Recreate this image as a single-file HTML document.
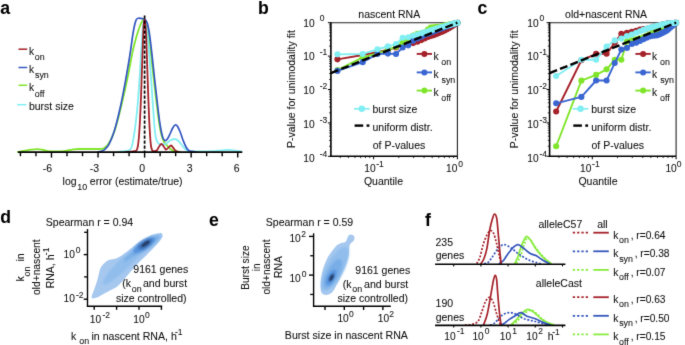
<!DOCTYPE html>
<html><head><meta charset="utf-8"><style>
html,body{margin:0;padding:0;background:#fff;}
svg{display:block;}
</style></head><body>
<svg width="685" height="345" viewBox="0 0 685 345" font-family='"Liberation Sans", Arial, sans-serif' font-size="10.5" fill="#111">
<style>text{stroke:#111;stroke-width:0.08px;}</style>
<defs><filter id="bl" x="-20%" y="-20%" width="140%" height="140%"><feGaussianBlur stdDeviation="0.9"/></filter>
<filter id="bl2" x="-20%" y="-20%" width="140%" height="140%"><feGaussianBlur stdDeviation="0.45"/></filter>
<filter id="soft" x="0" y="0" width="685" height="345" filterUnits="userSpaceOnUse" color-interpolation-filters="sRGB"><feConvolveMatrix order="3" kernelMatrix="1 8 1 8 64 8 1 8 1" divisor="100" edgeMode="duplicate"/></filter></defs>
<g filter="url(#soft)">
<rect width="685" height="345" fill="#fff"/>
<text x="0.20" y="13.80" font-size="17.6" font-weight="bold" fill="#000">a</text>
<text x="257.90" y="13.60" font-size="17.6" font-weight="bold" fill="#000">b</text>
<text x="477.60" y="13.80" font-size="17.6" font-weight="bold" fill="#000">c</text>
<text x="0.20" y="223.40" font-size="17.6" font-weight="bold" fill="#000">d</text>
<text x="209.00" y="226.30" font-size="17.6" font-weight="bold" fill="#000">e</text>
<text x="425.00" y="226.20" font-size="17.6" font-weight="bold" fill="#000">f</text>
<line x1="18.50" y1="49.20" x2="27.20" y2="49.20" stroke="#A5222A" stroke-width="1.5"/>
<text x="28.91" y="54.50" font-size="10.2">k</text>
<text x="34.83" y="59.90" font-size="8.9">on</text>
<line x1="18.50" y1="67.50" x2="27.20" y2="67.50" stroke="#3457C2" stroke-width="1.5"/>
<text x="28.91" y="72.80" font-size="10.2">k</text>
<text x="34.95" y="78.20" font-size="8.9">syn</text>
<line x1="18.50" y1="85.30" x2="27.20" y2="85.30" stroke="#80E52A" stroke-width="1.5"/>
<text x="28.91" y="91.10" font-size="10.2">k</text>
<text x="34.83" y="96.50" font-size="8.9">off</text>
<line x1="17.20" y1="104.70" x2="26.40" y2="104.70" stroke="#80EEF2" stroke-width="1.5"/>
<text x="28.92" y="109.50">burst size</text>
<path d="M17.90,152.00 C18.92,151.83 21.82,151.38 24.00,151.00 C26.18,150.62 28.75,150.02 31.00,149.70 C33.25,149.38 35.42,149.05 37.50,149.10 C39.58,149.15 41.42,149.63 43.50,150.00 C45.58,150.37 47.58,151.07 50.00,151.30 C52.42,151.53 55.67,151.43 58.00,151.40 C60.33,151.37 62.17,151.30 64.00,151.10 C65.83,150.90 67.42,150.50 69.00,150.20 C70.58,149.90 72.00,149.50 73.50,149.30 C75.00,149.10 75.25,149.05 78.00,149.00 C80.75,148.95 86.08,149.03 90.00,149.00 C93.92,148.97 99.03,149.03 101.50,148.80 C103.97,148.57 103.75,148.27 104.80,147.60 C105.85,146.93 106.77,146.15 107.80,144.80 C108.83,143.45 109.88,141.80 111.00,139.50 C112.12,137.20 113.33,134.42 114.50,131.00 C115.67,127.58 116.83,123.33 118.00,119.00 C119.17,114.67 120.42,109.50 121.50,105.00 C122.58,100.50 123.50,96.50 124.50,92.00 C125.50,87.50 126.52,82.83 127.50,78.00 C128.48,73.17 129.48,67.67 130.40,63.00 C131.32,58.33 132.15,53.83 133.00,50.00 C133.85,46.17 134.63,43.17 135.50,40.00 C136.37,36.83 137.28,33.75 138.20,31.00 C139.12,28.25 140.15,25.37 141.00,23.50 C141.85,21.63 142.58,20.30 143.30,19.80 C144.02,19.30 144.63,19.30 145.30,20.50 C145.97,21.70 146.63,23.75 147.30,27.00 C147.97,30.25 148.65,35.17 149.30,40.00 C149.95,44.83 150.55,50.33 151.20,56.00 C151.85,61.67 152.48,67.67 153.20,74.00 C153.92,80.33 154.73,87.50 155.50,94.00 C156.27,100.50 157.08,107.50 157.80,113.00 C158.52,118.50 159.13,123.17 159.80,127.00 C160.47,130.83 161.13,133.58 161.80,136.00 C162.47,138.42 163.02,140.03 163.80,141.50 C164.58,142.97 165.55,143.68 166.50,144.80 C167.45,145.92 168.50,147.23 169.50,148.20 C170.50,149.17 171.42,150.07 172.50,150.60 C173.58,151.13 174.75,151.17 176.00,151.40 C177.25,151.63 179.33,151.90 180.00,152.00" stroke="#80E52A" stroke-width="1.8" fill="none" stroke-linejoin="round" stroke-linecap="round"/>
<path d="M118.00,152.00 C119.17,151.87 123.17,151.50 125.00,151.20 C126.83,150.90 127.93,150.82 129.00,150.20 C130.07,149.58 130.70,149.20 131.40,147.50 C132.10,145.80 132.63,142.92 133.20,140.00 C133.77,137.08 134.28,133.67 134.80,130.00 C135.32,126.33 135.83,122.17 136.30,118.00 C136.77,113.83 137.18,109.67 137.60,105.00 C138.02,100.33 138.43,95.00 138.80,90.00 C139.17,85.00 139.47,80.33 139.80,75.00 C140.13,69.67 140.47,63.50 140.80,58.00 C141.13,52.50 141.47,47.00 141.80,42.00 C142.13,37.00 142.47,31.58 142.80,28.00 C143.13,24.42 143.40,21.80 143.80,20.50 C144.20,19.20 144.75,19.28 145.20,20.20 C145.65,21.12 146.10,23.37 146.50,26.00 C146.90,28.63 147.23,32.50 147.60,36.00 C147.97,39.50 148.35,43.00 148.70,47.00 C149.05,51.00 149.35,55.33 149.70,60.00 C150.05,64.67 150.38,69.17 150.80,75.00 C151.22,80.83 151.77,88.83 152.20,95.00 C152.63,101.17 153.00,106.50 153.40,112.00 C153.80,117.50 154.17,123.58 154.60,128.00 C155.03,132.42 155.43,136.00 156.00,138.50 C156.57,141.00 157.25,141.98 158.00,143.00 C158.75,144.02 159.67,144.33 160.50,144.60 C161.33,144.87 162.08,144.77 163.00,144.60 C163.92,144.43 164.92,144.20 166.00,143.60 C167.08,143.00 168.42,141.72 169.50,141.00 C170.58,140.28 171.58,139.62 172.50,139.30 C173.42,138.98 174.08,138.90 175.00,139.10 C175.92,139.30 177.00,139.68 178.00,140.50 C179.00,141.32 179.92,142.70 181.00,144.00 C182.08,145.30 183.33,147.17 184.50,148.30 C185.67,149.43 186.75,150.28 188.00,150.80 C189.25,151.32 189.17,151.30 192.00,151.40 C194.83,151.50 201.17,151.43 205.00,151.40 C208.83,151.37 212.17,151.38 215.00,151.20 C217.83,151.02 219.67,150.52 222.00,150.30 C224.33,150.08 226.83,149.85 229.00,149.90 C231.17,149.95 233.00,150.37 235.00,150.60 C237.00,150.83 240.00,151.18 241.00,151.30" stroke="#80EEF2" stroke-width="1.8" fill="none" stroke-linejoin="round" stroke-linecap="round"/>
<path d="M98.00,152.00 C98.55,151.87 100.20,151.60 101.30,151.20 C102.40,150.80 103.45,150.55 104.60,149.60 C105.75,148.65 107.10,147.22 108.20,145.50 C109.30,143.78 110.13,141.88 111.20,139.30 C112.27,136.72 113.50,133.55 114.60,130.00 C115.70,126.45 116.77,122.17 117.80,118.00 C118.83,113.83 119.83,109.50 120.80,105.00 C121.77,100.50 122.70,95.67 123.60,91.00 C124.50,86.33 125.37,81.67 126.20,77.00 C127.03,72.33 127.83,67.67 128.60,63.00 C129.37,58.33 130.13,53.50 130.80,49.00 C131.47,44.50 132.00,39.83 132.60,36.00 C133.20,32.17 133.78,28.72 134.40,26.00 C135.02,23.28 135.62,21.00 136.30,19.70 C136.98,18.40 137.72,18.42 138.50,18.20 C139.28,17.98 140.17,18.27 141.00,18.40 C141.83,18.53 142.73,18.73 143.50,19.00 C144.27,19.27 144.95,19.25 145.60,20.00 C146.25,20.75 146.83,21.67 147.40,23.50 C147.97,25.33 148.50,28.08 149.00,31.00 C149.50,33.92 149.93,37.33 150.40,41.00 C150.87,44.67 151.33,48.83 151.80,53.00 C152.27,57.17 152.73,61.67 153.20,66.00 C153.67,70.33 154.10,74.50 154.60,79.00 C155.10,83.50 155.67,88.33 156.20,93.00 C156.73,97.67 157.27,102.50 157.80,107.00 C158.33,111.50 158.83,116.00 159.40,120.00 C159.97,124.00 160.60,128.00 161.20,131.00 C161.80,134.00 162.37,136.40 163.00,138.00 C163.63,139.60 164.27,140.43 165.00,140.60 C165.73,140.77 166.57,140.10 167.40,139.00 C168.23,137.90 169.13,135.80 170.00,134.00 C170.87,132.20 171.73,129.70 172.60,128.20 C173.47,126.70 174.37,125.30 175.20,125.00 C176.03,124.70 176.77,125.23 177.60,126.40 C178.43,127.57 179.30,129.73 180.20,132.00 C181.10,134.27 182.03,137.50 183.00,140.00 C183.97,142.50 185.00,145.23 186.00,147.00 C187.00,148.77 188.00,149.87 189.00,150.60 C190.00,151.33 190.83,151.17 192.00,151.40 C193.17,151.63 195.33,151.90 196.00,152.00" stroke="#3457C2" stroke-width="1.7" fill="none" stroke-linejoin="round" stroke-linecap="round"/>
<path d="M126.00,152.00 C127.17,151.88 131.27,151.53 133.00,151.30 C134.73,151.07 135.58,151.48 136.40,150.60 C137.22,149.72 137.47,148.43 137.90,146.00 C138.33,143.57 138.65,140.33 139.00,136.00 C139.35,131.67 139.68,126.00 140.00,120.00 C140.32,114.00 140.63,106.67 140.90,100.00 C141.17,93.33 141.37,86.67 141.60,80.00 C141.83,73.33 142.07,66.67 142.30,60.00 C142.53,53.33 142.77,45.83 143.00,40.00 C143.23,34.17 143.43,28.42 143.70,25.00 C143.97,21.58 144.30,19.50 144.60,19.50 C144.90,19.50 145.22,21.58 145.50,25.00 C145.78,28.42 146.05,34.17 146.30,40.00 C146.55,45.83 146.77,53.33 147.00,60.00 C147.23,66.67 147.47,73.33 147.70,80.00 C147.93,86.67 148.15,93.33 148.40,100.00 C148.65,106.67 148.92,114.00 149.20,120.00 C149.48,126.00 149.80,131.67 150.10,136.00 C150.40,140.33 150.63,143.57 151.00,146.00 C151.37,148.43 151.72,149.73 152.30,150.60 C152.88,151.47 153.75,151.22 154.50,151.20 C155.25,151.18 156.05,151.23 156.80,150.50 C157.55,149.77 158.25,147.90 159.00,146.80 C159.75,145.70 160.53,144.00 161.30,143.90 C162.07,143.80 162.83,145.25 163.60,146.20 C164.37,147.15 165.10,149.37 165.90,149.60 C166.70,149.83 167.53,148.28 168.40,147.60 C169.27,146.92 170.25,145.40 171.10,145.50 C171.95,145.60 172.72,147.28 173.50,148.20 C174.28,149.12 174.88,150.37 175.80,151.00 C176.72,151.63 178.47,151.83 179.00,152.00" stroke="#A5222A" stroke-width="1.8" fill="none" stroke-linejoin="round" stroke-linecap="round"/>
<line x1="144.60" y1="15.60" x2="144.60" y2="152.00" stroke="#000" stroke-width="1.7" stroke-dasharray="3.2 1.8"/>
<line x1="17.90" y1="152.20" x2="242.30" y2="152.20" stroke="#000" stroke-width="1.7"/>
<line x1="20.44" y1="152.20" x2="20.44" y2="156.20" stroke="#000" stroke-width="1.4"/>
<line x1="35.96" y1="152.20" x2="35.96" y2="156.20" stroke="#000" stroke-width="1.4"/>
<line x1="51.48" y1="152.20" x2="51.48" y2="157.60" stroke="#000" stroke-width="1.4"/>
<line x1="67.00" y1="152.20" x2="67.00" y2="156.20" stroke="#000" stroke-width="1.4"/>
<line x1="82.52" y1="152.20" x2="82.52" y2="156.20" stroke="#000" stroke-width="1.4"/>
<line x1="98.04" y1="152.20" x2="98.04" y2="157.60" stroke="#000" stroke-width="1.4"/>
<line x1="113.56" y1="152.20" x2="113.56" y2="156.20" stroke="#000" stroke-width="1.4"/>
<line x1="129.08" y1="152.20" x2="129.08" y2="156.20" stroke="#000" stroke-width="1.4"/>
<line x1="144.60" y1="152.20" x2="144.60" y2="157.60" stroke="#000" stroke-width="1.4"/>
<line x1="160.12" y1="152.20" x2="160.12" y2="156.20" stroke="#000" stroke-width="1.4"/>
<line x1="175.64" y1="152.20" x2="175.64" y2="156.20" stroke="#000" stroke-width="1.4"/>
<line x1="191.16" y1="152.20" x2="191.16" y2="157.60" stroke="#000" stroke-width="1.4"/>
<line x1="206.68" y1="152.20" x2="206.68" y2="156.20" stroke="#000" stroke-width="1.4"/>
<line x1="222.20" y1="152.20" x2="222.20" y2="156.20" stroke="#000" stroke-width="1.4"/>
<line x1="237.72" y1="152.20" x2="237.72" y2="157.60" stroke="#000" stroke-width="1.4"/>
<text x="52.20" y="171.80" text-anchor="end">-6</text>
<text x="99.10" y="171.80" text-anchor="end">-3</text>
<text x="145.20" y="171.80" text-anchor="end">0</text>
<text x="192.70" y="171.80" text-anchor="end">3</text>
<text x="239.50" y="171.80" text-anchor="end">6</text>
<text x="62.60" y="185.40">log</text>
<text x="77.32" y="190.00" font-size="8.9">10</text>
<text x="89.85" y="185.40">error (estimate/true)</text>
<text x="358.30" y="18.40">nascent RNA</text>
<line x1="330.90" y1="22.70" x2="457.40" y2="22.70" stroke="#222" stroke-width="1.1"/>
<line x1="457.40" y1="22.70" x2="457.40" y2="156.30" stroke="#222" stroke-width="1.1"/>
<path d="M337.45,59.34 L362.68,54.98 L377.43,52.29 L387.90,49.64 L396.03,47.57 L402.66,45.65 L408.27,44.02 L413.13,43.10 L417.42,41.63 L421.25,40.08 L424.72,38.44 L427.89,37.00 L430.80,36.07 L433.50,35.20 L436.01,34.21 L438.36,33.21 L440.56,32.27 L442.64,31.39 L444.61,30.47 L446.48,29.46 L448.25,28.50 L449.95,27.59 L451.56,26.55 L453.11,25.53 L454.60,24.55 L456.03,23.61 L457.40,22.70" stroke="#A5222A" stroke-width="1.9" fill="none" stroke-linejoin="round" stroke-linecap="round"/>
<circle cx="337.45" cy="59.34" r="3.05" fill="#A5222A"/>
<circle cx="362.68" cy="54.98" r="3.05" fill="#A5222A"/>
<circle cx="377.43" cy="52.29" r="3.05" fill="#A5222A"/>
<circle cx="387.90" cy="49.64" r="3.05" fill="#A5222A"/>
<circle cx="396.03" cy="47.57" r="3.05" fill="#A5222A"/>
<circle cx="402.66" cy="45.65" r="3.05" fill="#A5222A"/>
<circle cx="408.27" cy="44.02" r="3.05" fill="#A5222A"/>
<circle cx="413.13" cy="43.10" r="3.05" fill="#A5222A"/>
<circle cx="417.42" cy="41.63" r="3.05" fill="#A5222A"/>
<circle cx="421.25" cy="40.08" r="3.05" fill="#A5222A"/>
<circle cx="424.72" cy="38.44" r="3.05" fill="#A5222A"/>
<circle cx="427.89" cy="37.00" r="3.05" fill="#A5222A"/>
<circle cx="430.80" cy="36.07" r="3.05" fill="#A5222A"/>
<circle cx="433.50" cy="35.20" r="3.05" fill="#A5222A"/>
<circle cx="436.01" cy="34.21" r="3.05" fill="#A5222A"/>
<circle cx="438.36" cy="33.21" r="3.05" fill="#A5222A"/>
<circle cx="440.56" cy="32.27" r="3.05" fill="#A5222A"/>
<circle cx="442.64" cy="31.39" r="3.05" fill="#A5222A"/>
<circle cx="444.61" cy="30.47" r="3.05" fill="#A5222A"/>
<circle cx="446.48" cy="29.46" r="3.05" fill="#A5222A"/>
<circle cx="448.25" cy="28.50" r="3.05" fill="#A5222A"/>
<circle cx="449.95" cy="27.59" r="3.05" fill="#A5222A"/>
<circle cx="451.56" cy="26.55" r="3.05" fill="#A5222A"/>
<circle cx="453.11" cy="25.53" r="3.05" fill="#A5222A"/>
<circle cx="454.60" cy="24.55" r="3.05" fill="#A5222A"/>
<circle cx="456.03" cy="23.61" r="3.05" fill="#A5222A"/>
<circle cx="457.40" cy="22.70" r="3.05" fill="#A5222A"/>
<path d="M337.45,70.14 L362.68,57.39 L377.43,53.46 L387.90,49.70 L396.03,46.79 L402.66,42.41 L408.27,38.71 L413.13,35.51 L417.42,33.78 L421.25,33.19 L424.72,32.18 L427.89,29.44 L430.80,27.54 L433.50,27.32 L436.01,27.11 L438.36,26.91 L440.56,26.48 L442.64,26.02 L444.61,25.59 L446.48,25.17 L448.25,24.78 L449.95,24.40 L451.56,24.03 L453.11,23.68 L454.60,23.34 L456.03,23.01 L457.40,22.70" stroke="#80E52A" stroke-width="1.9" fill="none" stroke-linejoin="round" stroke-linecap="round"/>
<circle cx="337.45" cy="70.14" r="3.05" fill="#80E52A"/>
<circle cx="362.68" cy="57.39" r="3.05" fill="#80E52A"/>
<circle cx="377.43" cy="53.46" r="3.05" fill="#80E52A"/>
<circle cx="387.90" cy="49.70" r="3.05" fill="#80E52A"/>
<circle cx="396.03" cy="46.79" r="3.05" fill="#80E52A"/>
<circle cx="402.66" cy="42.41" r="3.05" fill="#80E52A"/>
<circle cx="408.27" cy="38.71" r="3.05" fill="#80E52A"/>
<circle cx="413.13" cy="35.51" r="3.05" fill="#80E52A"/>
<circle cx="417.42" cy="33.78" r="3.05" fill="#80E52A"/>
<circle cx="421.25" cy="33.19" r="3.05" fill="#80E52A"/>
<circle cx="424.72" cy="32.18" r="3.05" fill="#80E52A"/>
<circle cx="427.89" cy="29.44" r="3.05" fill="#80E52A"/>
<circle cx="430.80" cy="27.54" r="3.05" fill="#80E52A"/>
<circle cx="433.50" cy="27.32" r="3.05" fill="#80E52A"/>
<circle cx="436.01" cy="27.11" r="3.05" fill="#80E52A"/>
<circle cx="438.36" cy="26.91" r="3.05" fill="#80E52A"/>
<circle cx="440.56" cy="26.48" r="3.05" fill="#80E52A"/>
<circle cx="442.64" cy="26.02" r="3.05" fill="#80E52A"/>
<circle cx="444.61" cy="25.59" r="3.05" fill="#80E52A"/>
<circle cx="446.48" cy="25.17" r="3.05" fill="#80E52A"/>
<circle cx="448.25" cy="24.78" r="3.05" fill="#80E52A"/>
<circle cx="449.95" cy="24.40" r="3.05" fill="#80E52A"/>
<circle cx="451.56" cy="24.03" r="3.05" fill="#80E52A"/>
<circle cx="453.11" cy="23.68" r="3.05" fill="#80E52A"/>
<circle cx="454.60" cy="23.34" r="3.05" fill="#80E52A"/>
<circle cx="456.03" cy="23.01" r="3.05" fill="#80E52A"/>
<circle cx="457.40" cy="22.70" r="3.05" fill="#80E52A"/>
<path d="M337.45,70.92 L362.68,62.13 L377.43,53.95 L387.90,53.58 L396.03,53.95 L402.66,47.57 L408.27,45.34 L413.13,40.66 L417.42,38.55 L421.25,36.66 L424.72,35.02 L427.89,33.76 L430.80,32.59 L433.50,31.52 L436.01,30.52 L438.36,29.58 L440.56,28.73 L442.64,27.94 L444.61,27.19 L446.48,26.47 L448.25,25.79 L449.95,25.18 L451.56,24.64 L453.11,24.13 L454.60,23.63 L456.03,23.16 L457.40,22.70" stroke="#3A66D2" stroke-width="1.9" fill="none" stroke-linejoin="round" stroke-linecap="round"/>
<circle cx="337.45" cy="70.92" r="3.05" fill="#3A66D2"/>
<circle cx="362.68" cy="62.13" r="3.05" fill="#3A66D2"/>
<circle cx="377.43" cy="53.95" r="3.05" fill="#3A66D2"/>
<circle cx="387.90" cy="53.58" r="3.05" fill="#3A66D2"/>
<circle cx="396.03" cy="53.95" r="3.05" fill="#3A66D2"/>
<circle cx="402.66" cy="47.57" r="3.05" fill="#3A66D2"/>
<circle cx="408.27" cy="45.34" r="3.05" fill="#3A66D2"/>
<circle cx="413.13" cy="40.66" r="3.05" fill="#3A66D2"/>
<circle cx="417.42" cy="38.55" r="3.05" fill="#3A66D2"/>
<circle cx="421.25" cy="36.66" r="3.05" fill="#3A66D2"/>
<circle cx="424.72" cy="35.02" r="3.05" fill="#3A66D2"/>
<circle cx="427.89" cy="33.76" r="3.05" fill="#3A66D2"/>
<circle cx="430.80" cy="32.59" r="3.05" fill="#3A66D2"/>
<circle cx="433.50" cy="31.52" r="3.05" fill="#3A66D2"/>
<circle cx="436.01" cy="30.52" r="3.05" fill="#3A66D2"/>
<circle cx="438.36" cy="29.58" r="3.05" fill="#3A66D2"/>
<circle cx="440.56" cy="28.73" r="3.05" fill="#3A66D2"/>
<circle cx="442.64" cy="27.94" r="3.05" fill="#3A66D2"/>
<circle cx="444.61" cy="27.19" r="3.05" fill="#3A66D2"/>
<circle cx="446.48" cy="26.47" r="3.05" fill="#3A66D2"/>
<circle cx="448.25" cy="25.79" r="3.05" fill="#3A66D2"/>
<circle cx="449.95" cy="25.18" r="3.05" fill="#3A66D2"/>
<circle cx="451.56" cy="24.64" r="3.05" fill="#3A66D2"/>
<circle cx="453.11" cy="24.13" r="3.05" fill="#3A66D2"/>
<circle cx="454.60" cy="23.63" r="3.05" fill="#3A66D2"/>
<circle cx="456.03" cy="23.16" r="3.05" fill="#3A66D2"/>
<circle cx="457.40" cy="22.70" r="3.05" fill="#3A66D2"/>
<path d="M337.45,54.33 L362.68,53.95 L377.43,49.28 L387.90,46.41 L396.03,44.08 L402.66,37.72 L408.27,37.20 L413.13,35.76 L417.42,34.48 L421.25,33.33 L424.72,32.24 L427.89,31.25 L430.80,30.34 L433.50,29.50 L436.01,28.71 L438.36,27.98 L440.56,27.31 L442.64,26.74 L444.61,26.20 L446.48,25.69 L448.25,25.21 L449.95,24.74 L451.56,24.30 L453.11,23.87 L454.60,23.47 L456.03,23.08 L457.40,22.70" stroke="#80EEF2" stroke-width="1.9" fill="none" stroke-linejoin="round" stroke-linecap="round"/>
<circle cx="337.45" cy="54.33" r="3.05" fill="#80EEF2"/>
<circle cx="362.68" cy="53.95" r="3.05" fill="#80EEF2"/>
<circle cx="377.43" cy="49.28" r="3.05" fill="#80EEF2"/>
<circle cx="387.90" cy="46.41" r="3.05" fill="#80EEF2"/>
<circle cx="396.03" cy="44.08" r="3.05" fill="#80EEF2"/>
<circle cx="402.66" cy="37.72" r="3.05" fill="#80EEF2"/>
<circle cx="408.27" cy="37.20" r="3.05" fill="#80EEF2"/>
<circle cx="413.13" cy="35.76" r="3.05" fill="#80EEF2"/>
<circle cx="417.42" cy="34.48" r="3.05" fill="#80EEF2"/>
<circle cx="421.25" cy="33.33" r="3.05" fill="#80EEF2"/>
<circle cx="424.72" cy="32.24" r="3.05" fill="#80EEF2"/>
<circle cx="427.89" cy="31.25" r="3.05" fill="#80EEF2"/>
<circle cx="430.80" cy="30.34" r="3.05" fill="#80EEF2"/>
<circle cx="433.50" cy="29.50" r="3.05" fill="#80EEF2"/>
<circle cx="436.01" cy="28.71" r="3.05" fill="#80EEF2"/>
<circle cx="438.36" cy="27.98" r="3.05" fill="#80EEF2"/>
<circle cx="440.56" cy="27.31" r="3.05" fill="#80EEF2"/>
<circle cx="442.64" cy="26.74" r="3.05" fill="#80EEF2"/>
<circle cx="444.61" cy="26.20" r="3.05" fill="#80EEF2"/>
<circle cx="446.48" cy="25.69" r="3.05" fill="#80EEF2"/>
<circle cx="448.25" cy="25.21" r="3.05" fill="#80EEF2"/>
<circle cx="449.95" cy="24.74" r="3.05" fill="#80EEF2"/>
<circle cx="451.56" cy="24.30" r="3.05" fill="#80EEF2"/>
<circle cx="453.11" cy="23.87" r="3.05" fill="#80EEF2"/>
<circle cx="454.60" cy="23.47" r="3.05" fill="#80EEF2"/>
<circle cx="456.03" cy="23.08" r="3.05" fill="#80EEF2"/>
<circle cx="457.40" cy="22.70" r="3.05" fill="#80EEF2"/>
<line x1="330.90" y1="73.12" x2="457.40" y2="22.70" stroke="#000" stroke-width="2.4" stroke-dasharray="8 3.2"/>
<line x1="330.90" y1="22.20" x2="330.90" y2="156.30" stroke="#000" stroke-width="1.6"/>
<line x1="330.10" y1="156.30" x2="457.40" y2="156.30" stroke="#000" stroke-width="1.6"/>
<line x1="329.10" y1="46.05" x2="330.90" y2="46.05" stroke="#000" stroke-width="0.8"/>
<line x1="329.10" y1="40.16" x2="330.90" y2="40.16" stroke="#000" stroke-width="0.8"/>
<line x1="329.10" y1="35.99" x2="330.90" y2="35.99" stroke="#000" stroke-width="0.8"/>
<line x1="329.10" y1="32.75" x2="330.90" y2="32.75" stroke="#000" stroke-width="0.8"/>
<line x1="329.10" y1="30.11" x2="330.90" y2="30.11" stroke="#000" stroke-width="0.8"/>
<line x1="329.10" y1="27.87" x2="330.90" y2="27.87" stroke="#000" stroke-width="0.8"/>
<line x1="329.10" y1="25.94" x2="330.90" y2="25.94" stroke="#000" stroke-width="0.8"/>
<line x1="329.10" y1="24.23" x2="330.90" y2="24.23" stroke="#000" stroke-width="0.8"/>
<line x1="329.10" y1="79.45" x2="330.90" y2="79.45" stroke="#000" stroke-width="0.8"/>
<line x1="329.10" y1="73.56" x2="330.90" y2="73.56" stroke="#000" stroke-width="0.8"/>
<line x1="329.10" y1="69.39" x2="330.90" y2="69.39" stroke="#000" stroke-width="0.8"/>
<line x1="329.10" y1="66.15" x2="330.90" y2="66.15" stroke="#000" stroke-width="0.8"/>
<line x1="329.10" y1="63.51" x2="330.90" y2="63.51" stroke="#000" stroke-width="0.8"/>
<line x1="329.10" y1="61.27" x2="330.90" y2="61.27" stroke="#000" stroke-width="0.8"/>
<line x1="329.10" y1="59.34" x2="330.90" y2="59.34" stroke="#000" stroke-width="0.8"/>
<line x1="329.10" y1="57.63" x2="330.90" y2="57.63" stroke="#000" stroke-width="0.8"/>
<line x1="329.10" y1="112.85" x2="330.90" y2="112.85" stroke="#000" stroke-width="0.8"/>
<line x1="329.10" y1="106.96" x2="330.90" y2="106.96" stroke="#000" stroke-width="0.8"/>
<line x1="329.10" y1="102.79" x2="330.90" y2="102.79" stroke="#000" stroke-width="0.8"/>
<line x1="329.10" y1="99.55" x2="330.90" y2="99.55" stroke="#000" stroke-width="0.8"/>
<line x1="329.10" y1="96.91" x2="330.90" y2="96.91" stroke="#000" stroke-width="0.8"/>
<line x1="329.10" y1="94.67" x2="330.90" y2="94.67" stroke="#000" stroke-width="0.8"/>
<line x1="329.10" y1="92.74" x2="330.90" y2="92.74" stroke="#000" stroke-width="0.8"/>
<line x1="329.10" y1="91.03" x2="330.90" y2="91.03" stroke="#000" stroke-width="0.8"/>
<line x1="329.10" y1="146.25" x2="330.90" y2="146.25" stroke="#000" stroke-width="0.8"/>
<line x1="329.10" y1="140.36" x2="330.90" y2="140.36" stroke="#000" stroke-width="0.8"/>
<line x1="329.10" y1="136.19" x2="330.90" y2="136.19" stroke="#000" stroke-width="0.8"/>
<line x1="329.10" y1="132.95" x2="330.90" y2="132.95" stroke="#000" stroke-width="0.8"/>
<line x1="329.10" y1="130.31" x2="330.90" y2="130.31" stroke="#000" stroke-width="0.8"/>
<line x1="329.10" y1="128.07" x2="330.90" y2="128.07" stroke="#000" stroke-width="0.8"/>
<line x1="329.10" y1="126.14" x2="330.90" y2="126.14" stroke="#000" stroke-width="0.8"/>
<line x1="329.10" y1="124.43" x2="330.90" y2="124.43" stroke="#000" stroke-width="0.8"/>
<line x1="327.90" y1="22.70" x2="330.90" y2="22.70" stroke="#000" stroke-width="1.0"/>
<line x1="327.90" y1="56.10" x2="330.90" y2="56.10" stroke="#000" stroke-width="1.0"/>
<line x1="327.90" y1="89.50" x2="330.90" y2="89.50" stroke="#000" stroke-width="1.0"/>
<line x1="327.90" y1="122.90" x2="330.90" y2="122.90" stroke="#000" stroke-width="1.0"/>
<line x1="327.90" y1="156.30" x2="330.90" y2="156.30" stroke="#000" stroke-width="1.0"/>
<line x1="340.25" y1="156.30" x2="340.25" y2="158.10" stroke="#000" stroke-width="0.8"/>
<line x1="348.37" y1="156.30" x2="348.37" y2="158.10" stroke="#000" stroke-width="0.8"/>
<line x1="355.01" y1="156.30" x2="355.01" y2="158.10" stroke="#000" stroke-width="0.8"/>
<line x1="360.62" y1="156.30" x2="360.62" y2="158.10" stroke="#000" stroke-width="0.8"/>
<line x1="365.48" y1="156.30" x2="365.48" y2="158.10" stroke="#000" stroke-width="0.8"/>
<line x1="369.77" y1="156.30" x2="369.77" y2="158.10" stroke="#000" stroke-width="0.8"/>
<line x1="398.83" y1="156.30" x2="398.83" y2="158.10" stroke="#000" stroke-width="0.8"/>
<line x1="413.58" y1="156.30" x2="413.58" y2="158.10" stroke="#000" stroke-width="0.8"/>
<line x1="424.05" y1="156.30" x2="424.05" y2="158.10" stroke="#000" stroke-width="0.8"/>
<line x1="432.17" y1="156.30" x2="432.17" y2="158.10" stroke="#000" stroke-width="0.8"/>
<line x1="438.81" y1="156.30" x2="438.81" y2="158.10" stroke="#000" stroke-width="0.8"/>
<line x1="444.42" y1="156.30" x2="444.42" y2="158.10" stroke="#000" stroke-width="0.8"/>
<line x1="449.28" y1="156.30" x2="449.28" y2="158.10" stroke="#000" stroke-width="0.8"/>
<line x1="453.57" y1="156.30" x2="453.57" y2="158.10" stroke="#000" stroke-width="0.8"/>
<line x1="373.60" y1="156.30" x2="373.60" y2="159.30" stroke="#000" stroke-width="1.0"/>
<line x1="457.40" y1="156.30" x2="457.40" y2="159.30" stroke="#000" stroke-width="1.0"/>
<text x="303.32" y="26.70" font-size="10.2">10</text>
<text x="319.77" y="21.40" font-size="8.5">0</text>
<text x="303.32" y="60.42" font-size="10.2">10</text>
<text x="319.72" y="55.22" font-size="8.5">-1</text>
<text x="303.32" y="94.14" font-size="10.2">10</text>
<text x="319.72" y="89.04" font-size="8.5">-2</text>
<text x="303.32" y="127.86" font-size="10.2">10</text>
<text x="319.72" y="122.86" font-size="8.5">-3</text>
<text x="303.32" y="161.58" font-size="10.2">10</text>
<text x="319.72" y="156.68" font-size="8.5">-4</text>
<text x="364.22" y="171.60" font-size="10.2">10</text>
<text x="376.22" y="166.60" font-size="8.5">-1</text>
<text x="446.12" y="171.60" font-size="10.2">10</text>
<text x="458.17" y="166.60" font-size="8.5">0</text>
<text x="363.90" y="184.60">Quantile</text>
<text transform="translate(295.00,89.10) rotate(-90)" text-anchor="middle">P-value for unimodality fit</text>
<line x1="416.70" y1="53.90" x2="432.00" y2="53.90" stroke="#A5222A" stroke-width="1.9"/>
<circle cx="424.40" cy="53.90" r="3.0" fill="#A5222A"/>
<text x="433.41" y="59.60" font-size="10.2">k</text>
<text x="441.33" y="64.50" font-size="8.9">on</text>
<line x1="416.70" y1="72.40" x2="432.00" y2="72.40" stroke="#3A66D2" stroke-width="1.9"/>
<circle cx="424.40" cy="72.40" r="3.0" fill="#3A66D2"/>
<text x="433.41" y="78.10" font-size="10.2">k</text>
<text x="441.45" y="83.00" font-size="8.9">syn</text>
<line x1="416.70" y1="90.60" x2="432.00" y2="90.60" stroke="#80E52A" stroke-width="1.9"/>
<circle cx="424.40" cy="90.60" r="3.0" fill="#80E52A"/>
<text x="433.41" y="96.30" font-size="10.2">k</text>
<text x="441.33" y="101.20" font-size="8.9">off</text>
<line x1="354.00" y1="108.80" x2="369.60" y2="108.80" stroke="#80EEF2" stroke-width="1.7"/>
<circle cx="361.80" cy="108.80" r="3.2" fill="#80EEF2"/>
<text x="372.52" y="113.00">burst size</text>
<line x1="354.60" y1="125.60" x2="363.20" y2="125.60" stroke="#000" stroke-width="2.4"/>
<line x1="366.60" y1="125.60" x2="369.40" y2="125.60" stroke="#000" stroke-width="2.4"/>
<text x="372.52" y="131.00">uniform distr.</text>
<text x="372.76" y="148.50">of P-values</text>
<text x="565.06" y="18.40">old+nascent RNA</text>
<line x1="549.60" y1="22.70" x2="676.10" y2="22.70" stroke="#222" stroke-width="1.1"/>
<line x1="676.10" y1="22.70" x2="676.10" y2="156.30" stroke="#222" stroke-width="1.1"/>
<path d="M556.15,111.46 L581.38,60.27 L596.13,53.82 L606.60,53.82 L614.73,42.74 L621.36,33.68 L626.97,32.70 L631.83,31.84 L636.12,30.84 L639.95,29.45 L643.42,29.10 L646.59,28.77 L649.50,27.99 L652.20,27.18 L654.71,26.42 L657.06,25.71 L659.26,25.22 L661.34,24.80 L663.31,24.40 L665.18,24.02 L666.95,23.65 L668.65,23.38 L670.26,23.23 L671.81,23.09 L673.30,22.96 L674.73,22.83 L676.10,22.70" stroke="#A5222A" stroke-width="1.9" fill="none" stroke-linejoin="round" stroke-linecap="round"/>
<circle cx="556.15" cy="111.46" r="3.05" fill="#A5222A"/>
<circle cx="581.38" cy="60.27" r="3.05" fill="#A5222A"/>
<circle cx="596.13" cy="53.82" r="3.05" fill="#A5222A"/>
<circle cx="606.60" cy="53.82" r="3.05" fill="#A5222A"/>
<circle cx="614.73" cy="42.74" r="3.05" fill="#A5222A"/>
<circle cx="621.36" cy="33.68" r="3.05" fill="#A5222A"/>
<circle cx="626.97" cy="32.70" r="3.05" fill="#A5222A"/>
<circle cx="631.83" cy="31.84" r="3.05" fill="#A5222A"/>
<circle cx="636.12" cy="30.84" r="3.05" fill="#A5222A"/>
<circle cx="639.95" cy="29.45" r="3.05" fill="#A5222A"/>
<circle cx="643.42" cy="29.10" r="3.05" fill="#A5222A"/>
<circle cx="646.59" cy="28.77" r="3.05" fill="#A5222A"/>
<circle cx="649.50" cy="27.99" r="3.05" fill="#A5222A"/>
<circle cx="652.20" cy="27.18" r="3.05" fill="#A5222A"/>
<circle cx="654.71" cy="26.42" r="3.05" fill="#A5222A"/>
<circle cx="657.06" cy="25.71" r="3.05" fill="#A5222A"/>
<circle cx="659.26" cy="25.22" r="3.05" fill="#A5222A"/>
<circle cx="661.34" cy="24.80" r="3.05" fill="#A5222A"/>
<circle cx="663.31" cy="24.40" r="3.05" fill="#A5222A"/>
<circle cx="665.18" cy="24.02" r="3.05" fill="#A5222A"/>
<circle cx="666.95" cy="23.65" r="3.05" fill="#A5222A"/>
<circle cx="668.65" cy="23.38" r="3.05" fill="#A5222A"/>
<circle cx="670.26" cy="23.23" r="3.05" fill="#A5222A"/>
<circle cx="671.81" cy="23.09" r="3.05" fill="#A5222A"/>
<circle cx="673.30" cy="22.96" r="3.05" fill="#A5222A"/>
<circle cx="674.73" cy="22.83" r="3.05" fill="#A5222A"/>
<circle cx="676.10" cy="22.70" r="3.05" fill="#A5222A"/>
<path d="M556.15,146.25 L581.38,80.66 L596.13,74.88 L606.60,69.35 L614.73,59.80 L621.36,59.80 L626.97,41.53 L631.83,40.30 L636.12,39.21 L639.95,38.23 L643.42,37.23 L646.59,35.85 L649.50,34.59 L652.20,33.42 L654.71,32.33 L657.06,31.31 L659.26,30.32 L661.34,29.38 L663.31,28.49 L665.18,27.64 L666.95,26.84 L668.65,26.07 L670.26,25.34 L671.81,24.64 L673.30,23.97 L674.73,23.32 L676.10,22.70" stroke="#80E52A" stroke-width="1.9" fill="none" stroke-linejoin="round" stroke-linecap="round"/>
<circle cx="556.15" cy="146.25" r="3.05" fill="#80E52A"/>
<circle cx="581.38" cy="80.66" r="3.05" fill="#80E52A"/>
<circle cx="596.13" cy="74.88" r="3.05" fill="#80E52A"/>
<circle cx="606.60" cy="69.35" r="3.05" fill="#80E52A"/>
<circle cx="614.73" cy="59.80" r="3.05" fill="#80E52A"/>
<circle cx="621.36" cy="59.80" r="3.05" fill="#80E52A"/>
<circle cx="626.97" cy="41.53" r="3.05" fill="#80E52A"/>
<circle cx="631.83" cy="40.30" r="3.05" fill="#80E52A"/>
<circle cx="636.12" cy="39.21" r="3.05" fill="#80E52A"/>
<circle cx="639.95" cy="38.23" r="3.05" fill="#80E52A"/>
<circle cx="643.42" cy="37.23" r="3.05" fill="#80E52A"/>
<circle cx="646.59" cy="35.85" r="3.05" fill="#80E52A"/>
<circle cx="649.50" cy="34.59" r="3.05" fill="#80E52A"/>
<circle cx="652.20" cy="33.42" r="3.05" fill="#80E52A"/>
<circle cx="654.71" cy="32.33" r="3.05" fill="#80E52A"/>
<circle cx="657.06" cy="31.31" r="3.05" fill="#80E52A"/>
<circle cx="659.26" cy="30.32" r="3.05" fill="#80E52A"/>
<circle cx="661.34" cy="29.38" r="3.05" fill="#80E52A"/>
<circle cx="663.31" cy="28.49" r="3.05" fill="#80E52A"/>
<circle cx="665.18" cy="27.64" r="3.05" fill="#80E52A"/>
<circle cx="666.95" cy="26.84" r="3.05" fill="#80E52A"/>
<circle cx="668.65" cy="26.07" r="3.05" fill="#80E52A"/>
<circle cx="670.26" cy="25.34" r="3.05" fill="#80E52A"/>
<circle cx="671.81" cy="24.64" r="3.05" fill="#80E52A"/>
<circle cx="673.30" cy="23.97" r="3.05" fill="#80E52A"/>
<circle cx="674.73" cy="23.32" r="3.05" fill="#80E52A"/>
<circle cx="676.10" cy="22.70" r="3.05" fill="#80E52A"/>
<path d="M556.15,103.31 L581.38,96.91 L596.13,80.50 L606.60,80.50 L614.73,63.03 L621.36,49.46 L626.97,47.90 L631.83,43.89 L636.12,42.81 L639.95,40.97 L643.42,39.31 L646.59,37.80 L649.50,36.41 L652.20,35.87 L654.71,35.59 L657.06,35.33 L659.26,34.43 L661.34,33.42 L663.31,32.47 L665.18,31.56 L666.95,30.40 L668.65,28.98 L670.26,27.61 L671.81,26.31 L673.30,25.06 L674.73,23.86 L676.10,22.70" stroke="#3A66D2" stroke-width="1.9" fill="none" stroke-linejoin="round" stroke-linecap="round"/>
<circle cx="556.15" cy="103.31" r="3.05" fill="#3A66D2"/>
<circle cx="581.38" cy="96.91" r="3.05" fill="#3A66D2"/>
<circle cx="596.13" cy="80.50" r="3.05" fill="#3A66D2"/>
<circle cx="606.60" cy="80.50" r="3.05" fill="#3A66D2"/>
<circle cx="614.73" cy="63.03" r="3.05" fill="#3A66D2"/>
<circle cx="621.36" cy="49.46" r="3.05" fill="#3A66D2"/>
<circle cx="626.97" cy="47.90" r="3.05" fill="#3A66D2"/>
<circle cx="631.83" cy="43.89" r="3.05" fill="#3A66D2"/>
<circle cx="636.12" cy="42.81" r="3.05" fill="#3A66D2"/>
<circle cx="639.95" cy="40.97" r="3.05" fill="#3A66D2"/>
<circle cx="643.42" cy="39.31" r="3.05" fill="#3A66D2"/>
<circle cx="646.59" cy="37.80" r="3.05" fill="#3A66D2"/>
<circle cx="649.50" cy="36.41" r="3.05" fill="#3A66D2"/>
<circle cx="652.20" cy="35.87" r="3.05" fill="#3A66D2"/>
<circle cx="654.71" cy="35.59" r="3.05" fill="#3A66D2"/>
<circle cx="657.06" cy="35.33" r="3.05" fill="#3A66D2"/>
<circle cx="659.26" cy="34.43" r="3.05" fill="#3A66D2"/>
<circle cx="661.34" cy="33.42" r="3.05" fill="#3A66D2"/>
<circle cx="663.31" cy="32.47" r="3.05" fill="#3A66D2"/>
<circle cx="665.18" cy="31.56" r="3.05" fill="#3A66D2"/>
<circle cx="666.95" cy="30.40" r="3.05" fill="#3A66D2"/>
<circle cx="668.65" cy="28.98" r="3.05" fill="#3A66D2"/>
<circle cx="670.26" cy="27.61" r="3.05" fill="#3A66D2"/>
<circle cx="671.81" cy="26.31" r="3.05" fill="#3A66D2"/>
<circle cx="673.30" cy="25.06" r="3.05" fill="#3A66D2"/>
<circle cx="674.73" cy="23.86" r="3.05" fill="#3A66D2"/>
<circle cx="676.10" cy="22.70" r="3.05" fill="#3A66D2"/>
<path d="M556.15,75.98 L581.38,59.80 L596.13,59.80 L606.60,46.49 L614.73,40.41 L621.36,38.61 L626.97,36.10 L631.83,34.44 L636.12,32.75 L639.95,31.23 L643.42,29.89 L646.59,28.86 L649.50,27.91 L652.20,27.09 L654.71,26.37 L657.06,25.71 L659.26,25.22 L661.34,24.80 L663.31,24.40 L665.18,24.02 L666.95,23.65 L668.65,23.38 L670.26,23.23 L671.81,23.09 L673.30,22.96 L674.73,22.83 L676.10,22.70" stroke="#80EEF2" stroke-width="1.9" fill="none" stroke-linejoin="round" stroke-linecap="round"/>
<circle cx="556.15" cy="75.98" r="3.05" fill="#80EEF2"/>
<circle cx="581.38" cy="59.80" r="3.05" fill="#80EEF2"/>
<circle cx="596.13" cy="59.80" r="3.05" fill="#80EEF2"/>
<circle cx="606.60" cy="46.49" r="3.05" fill="#80EEF2"/>
<circle cx="614.73" cy="40.41" r="3.05" fill="#80EEF2"/>
<circle cx="621.36" cy="38.61" r="3.05" fill="#80EEF2"/>
<circle cx="626.97" cy="36.10" r="3.05" fill="#80EEF2"/>
<circle cx="631.83" cy="34.44" r="3.05" fill="#80EEF2"/>
<circle cx="636.12" cy="32.75" r="3.05" fill="#80EEF2"/>
<circle cx="639.95" cy="31.23" r="3.05" fill="#80EEF2"/>
<circle cx="643.42" cy="29.89" r="3.05" fill="#80EEF2"/>
<circle cx="646.59" cy="28.86" r="3.05" fill="#80EEF2"/>
<circle cx="649.50" cy="27.91" r="3.05" fill="#80EEF2"/>
<circle cx="652.20" cy="27.09" r="3.05" fill="#80EEF2"/>
<circle cx="654.71" cy="26.37" r="3.05" fill="#80EEF2"/>
<circle cx="657.06" cy="25.71" r="3.05" fill="#80EEF2"/>
<circle cx="659.26" cy="25.22" r="3.05" fill="#80EEF2"/>
<circle cx="661.34" cy="24.80" r="3.05" fill="#80EEF2"/>
<circle cx="663.31" cy="24.40" r="3.05" fill="#80EEF2"/>
<circle cx="665.18" cy="24.02" r="3.05" fill="#80EEF2"/>
<circle cx="666.95" cy="23.65" r="3.05" fill="#80EEF2"/>
<circle cx="668.65" cy="23.38" r="3.05" fill="#80EEF2"/>
<circle cx="670.26" cy="23.23" r="3.05" fill="#80EEF2"/>
<circle cx="671.81" cy="23.09" r="3.05" fill="#80EEF2"/>
<circle cx="673.30" cy="22.96" r="3.05" fill="#80EEF2"/>
<circle cx="674.73" cy="22.83" r="3.05" fill="#80EEF2"/>
<circle cx="676.10" cy="22.70" r="3.05" fill="#80EEF2"/>
<line x1="549.60" y1="73.12" x2="676.10" y2="22.70" stroke="#000" stroke-width="2.4" stroke-dasharray="8 3.2"/>
<line x1="549.60" y1="22.20" x2="549.60" y2="156.30" stroke="#000" stroke-width="1.6"/>
<line x1="548.80" y1="156.30" x2="676.10" y2="156.30" stroke="#000" stroke-width="1.6"/>
<line x1="547.80" y1="46.05" x2="549.60" y2="46.05" stroke="#000" stroke-width="0.8"/>
<line x1="547.80" y1="40.16" x2="549.60" y2="40.16" stroke="#000" stroke-width="0.8"/>
<line x1="547.80" y1="35.99" x2="549.60" y2="35.99" stroke="#000" stroke-width="0.8"/>
<line x1="547.80" y1="32.75" x2="549.60" y2="32.75" stroke="#000" stroke-width="0.8"/>
<line x1="547.80" y1="30.11" x2="549.60" y2="30.11" stroke="#000" stroke-width="0.8"/>
<line x1="547.80" y1="27.87" x2="549.60" y2="27.87" stroke="#000" stroke-width="0.8"/>
<line x1="547.80" y1="25.94" x2="549.60" y2="25.94" stroke="#000" stroke-width="0.8"/>
<line x1="547.80" y1="24.23" x2="549.60" y2="24.23" stroke="#000" stroke-width="0.8"/>
<line x1="547.80" y1="79.45" x2="549.60" y2="79.45" stroke="#000" stroke-width="0.8"/>
<line x1="547.80" y1="73.56" x2="549.60" y2="73.56" stroke="#000" stroke-width="0.8"/>
<line x1="547.80" y1="69.39" x2="549.60" y2="69.39" stroke="#000" stroke-width="0.8"/>
<line x1="547.80" y1="66.15" x2="549.60" y2="66.15" stroke="#000" stroke-width="0.8"/>
<line x1="547.80" y1="63.51" x2="549.60" y2="63.51" stroke="#000" stroke-width="0.8"/>
<line x1="547.80" y1="61.27" x2="549.60" y2="61.27" stroke="#000" stroke-width="0.8"/>
<line x1="547.80" y1="59.34" x2="549.60" y2="59.34" stroke="#000" stroke-width="0.8"/>
<line x1="547.80" y1="57.63" x2="549.60" y2="57.63" stroke="#000" stroke-width="0.8"/>
<line x1="547.80" y1="112.85" x2="549.60" y2="112.85" stroke="#000" stroke-width="0.8"/>
<line x1="547.80" y1="106.96" x2="549.60" y2="106.96" stroke="#000" stroke-width="0.8"/>
<line x1="547.80" y1="102.79" x2="549.60" y2="102.79" stroke="#000" stroke-width="0.8"/>
<line x1="547.80" y1="99.55" x2="549.60" y2="99.55" stroke="#000" stroke-width="0.8"/>
<line x1="547.80" y1="96.91" x2="549.60" y2="96.91" stroke="#000" stroke-width="0.8"/>
<line x1="547.80" y1="94.67" x2="549.60" y2="94.67" stroke="#000" stroke-width="0.8"/>
<line x1="547.80" y1="92.74" x2="549.60" y2="92.74" stroke="#000" stroke-width="0.8"/>
<line x1="547.80" y1="91.03" x2="549.60" y2="91.03" stroke="#000" stroke-width="0.8"/>
<line x1="547.80" y1="146.25" x2="549.60" y2="146.25" stroke="#000" stroke-width="0.8"/>
<line x1="547.80" y1="140.36" x2="549.60" y2="140.36" stroke="#000" stroke-width="0.8"/>
<line x1="547.80" y1="136.19" x2="549.60" y2="136.19" stroke="#000" stroke-width="0.8"/>
<line x1="547.80" y1="132.95" x2="549.60" y2="132.95" stroke="#000" stroke-width="0.8"/>
<line x1="547.80" y1="130.31" x2="549.60" y2="130.31" stroke="#000" stroke-width="0.8"/>
<line x1="547.80" y1="128.07" x2="549.60" y2="128.07" stroke="#000" stroke-width="0.8"/>
<line x1="547.80" y1="126.14" x2="549.60" y2="126.14" stroke="#000" stroke-width="0.8"/>
<line x1="547.80" y1="124.43" x2="549.60" y2="124.43" stroke="#000" stroke-width="0.8"/>
<line x1="546.60" y1="22.70" x2="549.60" y2="22.70" stroke="#000" stroke-width="1.0"/>
<line x1="546.60" y1="56.10" x2="549.60" y2="56.10" stroke="#000" stroke-width="1.0"/>
<line x1="546.60" y1="89.50" x2="549.60" y2="89.50" stroke="#000" stroke-width="1.0"/>
<line x1="546.60" y1="122.90" x2="549.60" y2="122.90" stroke="#000" stroke-width="1.0"/>
<line x1="546.60" y1="156.30" x2="549.60" y2="156.30" stroke="#000" stroke-width="1.0"/>
<line x1="558.95" y1="156.30" x2="558.95" y2="158.10" stroke="#000" stroke-width="0.8"/>
<line x1="567.07" y1="156.30" x2="567.07" y2="158.10" stroke="#000" stroke-width="0.8"/>
<line x1="573.71" y1="156.30" x2="573.71" y2="158.10" stroke="#000" stroke-width="0.8"/>
<line x1="579.32" y1="156.30" x2="579.32" y2="158.10" stroke="#000" stroke-width="0.8"/>
<line x1="584.18" y1="156.30" x2="584.18" y2="158.10" stroke="#000" stroke-width="0.8"/>
<line x1="588.47" y1="156.30" x2="588.47" y2="158.10" stroke="#000" stroke-width="0.8"/>
<line x1="617.53" y1="156.30" x2="617.53" y2="158.10" stroke="#000" stroke-width="0.8"/>
<line x1="632.28" y1="156.30" x2="632.28" y2="158.10" stroke="#000" stroke-width="0.8"/>
<line x1="642.75" y1="156.30" x2="642.75" y2="158.10" stroke="#000" stroke-width="0.8"/>
<line x1="650.87" y1="156.30" x2="650.87" y2="158.10" stroke="#000" stroke-width="0.8"/>
<line x1="657.51" y1="156.30" x2="657.51" y2="158.10" stroke="#000" stroke-width="0.8"/>
<line x1="663.12" y1="156.30" x2="663.12" y2="158.10" stroke="#000" stroke-width="0.8"/>
<line x1="667.98" y1="156.30" x2="667.98" y2="158.10" stroke="#000" stroke-width="0.8"/>
<line x1="672.27" y1="156.30" x2="672.27" y2="158.10" stroke="#000" stroke-width="0.8"/>
<line x1="592.30" y1="156.30" x2="592.30" y2="159.30" stroke="#000" stroke-width="1.0"/>
<line x1="676.10" y1="156.30" x2="676.10" y2="159.30" stroke="#000" stroke-width="1.0"/>
<text x="527.22" y="26.70" font-size="10.2">10</text>
<text x="539.57" y="21.40" font-size="8.5">0</text>
<text x="527.22" y="60.42" font-size="10.2">10</text>
<text x="539.52" y="55.22" font-size="8.5">-1</text>
<text x="527.22" y="94.14" font-size="10.2">10</text>
<text x="539.52" y="89.04" font-size="8.5">-2</text>
<text x="527.22" y="127.86" font-size="10.2">10</text>
<text x="539.52" y="122.86" font-size="8.5">-3</text>
<text x="527.22" y="161.58" font-size="10.2">10</text>
<text x="539.52" y="156.68" font-size="8.5">-4</text>
<text x="580.02" y="171.60" font-size="10.2">10</text>
<text x="592.12" y="166.60" font-size="8.5">-1</text>
<text x="665.42" y="171.60" font-size="10.2">10</text>
<text x="676.77" y="166.60" font-size="8.5">0</text>
<text x="578.40" y="184.60">Quantile</text>
<text transform="translate(518.20,89.40) rotate(-90)" text-anchor="middle">P-value for unimodality fit</text>
<line x1="635.40" y1="53.90" x2="650.70" y2="53.90" stroke="#A5222A" stroke-width="1.9"/>
<circle cx="643.10" cy="53.90" r="3.0" fill="#A5222A"/>
<text x="652.11" y="59.60" font-size="10.2">k</text>
<text x="660.03" y="64.50" font-size="8.9">on</text>
<line x1="635.40" y1="72.40" x2="650.70" y2="72.40" stroke="#3A66D2" stroke-width="1.9"/>
<circle cx="643.10" cy="72.40" r="3.0" fill="#3A66D2"/>
<text x="652.11" y="78.10" font-size="10.2">k</text>
<text x="660.15" y="83.00" font-size="8.9">syn</text>
<line x1="635.40" y1="90.60" x2="650.70" y2="90.60" stroke="#80E52A" stroke-width="1.9"/>
<circle cx="643.10" cy="90.60" r="3.0" fill="#80E52A"/>
<text x="652.11" y="96.30" font-size="10.2">k</text>
<text x="660.03" y="101.20" font-size="8.9">off</text>
<line x1="572.70" y1="108.80" x2="588.30" y2="108.80" stroke="#80EEF2" stroke-width="1.7"/>
<circle cx="580.50" cy="108.80" r="3.2" fill="#80EEF2"/>
<text x="591.22" y="113.00">burst size</text>
<line x1="573.30" y1="125.60" x2="581.90" y2="125.60" stroke="#000" stroke-width="2.4"/>
<line x1="585.30" y1="125.60" x2="588.10" y2="125.60" stroke="#000" stroke-width="2.4"/>
<text x="591.22" y="131.00">uniform distr.</text>
<text x="591.46" y="148.50">of P-values</text>
<text x="45.82" y="226.10">Spearman r = 0.94</text>
<path d="M161.50,233.00 C160.75,233.10 158.47,233.33 157.00,233.60 C155.53,233.87 154.37,234.00 152.70,234.60 C151.03,235.20 148.75,236.33 147.00,237.20 C145.25,238.07 143.87,238.75 142.20,239.80 C140.53,240.85 138.73,242.17 137.00,243.50 C135.27,244.83 133.38,246.52 131.80,247.80 C130.22,249.08 128.90,250.13 127.50,251.20 C126.10,252.27 124.73,253.27 123.40,254.20 C122.07,255.13 120.72,256.10 119.50,256.80 C118.28,257.50 117.27,258.00 116.10,258.40 C114.93,258.80 113.60,258.98 112.50,259.20 C111.40,259.42 110.38,259.43 109.50,259.70 C108.62,259.97 108.12,260.15 107.20,260.80 C106.28,261.45 105.00,262.60 104.00,263.60 C103.00,264.60 101.93,265.65 101.20,266.80 C100.47,267.95 100.03,269.13 99.60,270.50 C99.17,271.87 99.00,273.33 98.60,275.00 C98.20,276.67 97.77,278.58 97.20,280.50 C96.63,282.42 95.90,284.50 95.20,286.50 C94.50,288.50 93.60,290.85 93.00,292.50 C92.40,294.15 91.67,295.42 91.60,296.40 C91.53,297.38 91.70,298.20 92.60,298.40 C93.50,298.60 95.35,298.23 97.00,297.60 C98.65,296.97 100.67,295.60 102.50,294.60 C104.33,293.60 106.25,292.53 108.00,291.60 C109.75,290.67 111.42,289.90 113.00,289.00 C114.58,288.10 116.12,287.27 117.50,286.20 C118.88,285.13 119.97,284.00 121.30,282.60 C122.63,281.20 124.10,279.43 125.50,277.80 C126.90,276.17 128.28,274.43 129.70,272.80 C131.12,271.17 132.62,269.55 134.00,268.00 C135.38,266.45 136.63,264.95 138.00,263.50 C139.37,262.05 140.80,260.68 142.20,259.30 C143.60,257.92 145.00,256.58 146.40,255.20 C147.80,253.82 149.20,252.43 150.60,251.00 C152.00,249.57 153.47,248.07 154.80,246.60 C156.13,245.13 157.50,243.60 158.60,242.20 C159.70,240.80 160.73,239.32 161.40,238.20 C162.07,237.08 162.58,236.37 162.60,235.50 C162.62,234.63 161.68,233.42 161.50,233.00Z" fill="#A6C8EF" filter="url(#bl2)"/>
<path d="M160.50,234.50 C159.75,234.67 157.92,234.83 156.00,235.50 C154.08,236.17 151.50,237.17 149.00,238.50 C146.50,239.83 143.67,241.67 141.00,243.50 C138.33,245.33 135.50,247.58 133.00,249.50 C130.50,251.42 128.25,253.17 126.00,255.00 C123.75,256.83 121.58,258.58 119.50,260.50 C117.42,262.42 115.42,264.42 113.50,266.50 C111.58,268.58 109.58,270.83 108.00,273.00 C106.42,275.17 104.83,277.67 104.00,279.50 C103.17,281.33 102.67,283.17 103.00,284.00 C103.33,284.83 104.67,284.92 106.00,284.50 C107.33,284.08 109.17,282.72 111.00,281.50 C112.83,280.28 115.00,278.75 117.00,277.20 C119.00,275.65 121.00,273.97 123.00,272.20 C125.00,270.43 126.92,268.57 129.00,266.60 C131.08,264.63 133.33,262.40 135.50,260.40 C137.67,258.40 139.75,256.45 142.00,254.60 C144.25,252.75 146.83,251.02 149.00,249.30 C151.17,247.58 153.25,245.93 155.00,244.30 C156.75,242.67 158.40,240.80 159.50,239.50 C160.60,238.20 161.43,237.33 161.60,236.50 C161.77,235.67 160.68,234.83 160.50,234.50Z" fill="#90BDEC" filter="url(#bl)"/>
<path d="M158.50,235.60 C157.25,236.10 153.58,237.27 151.00,238.60 C148.42,239.93 145.67,241.77 143.00,243.60 C140.33,245.43 137.42,247.67 135.00,249.60 C132.58,251.53 130.30,253.57 128.50,255.20 C126.70,256.83 124.68,258.40 124.20,259.40 C123.72,260.40 124.22,261.60 125.60,261.20 C126.98,260.80 130.02,258.53 132.50,257.00 C134.98,255.47 137.83,253.77 140.50,252.00 C143.17,250.23 146.05,248.20 148.50,246.40 C150.95,244.60 153.40,242.67 155.20,241.20 C157.00,239.73 158.75,238.53 159.30,237.60 C159.85,236.67 158.63,235.93 158.50,235.60Z" fill="#78ADE7" filter="url(#bl)"/>
<ellipse cx="144.2" cy="245.0" rx="13" ry="4.4" transform="rotate(-34 144.2 245.0)" fill="#5291DC" opacity="1" filter="url(#bl)"/>
<ellipse cx="145.2" cy="244.1" rx="7.8" ry="2.9" transform="rotate(-34 145.2 244.1)" fill="#3A66A6" opacity="1" filter="url(#bl)"/>
<ellipse cx="145.6" cy="243.8" rx="4.6" ry="1.8" transform="rotate(-34 145.6 243.8)" fill="#26406A" opacity="1" filter="url(#bl2)"/>
<line x1="87.50" y1="229.10" x2="87.50" y2="306.20" stroke="#000" stroke-width="1.4"/>
<line x1="86.80" y1="306.20" x2="162.20" y2="306.20" stroke="#000" stroke-width="1.4"/>
<line x1="84.10" y1="232.30" x2="87.50" y2="232.30" stroke="#000" stroke-width="1.3"/>
<line x1="84.10" y1="276.90" x2="87.50" y2="276.90" stroke="#000" stroke-width="1.3"/>
<line x1="83.70" y1="254.60" x2="87.50" y2="254.60" stroke="#000" stroke-width="1.4"/>
<line x1="83.70" y1="299.20" x2="87.50" y2="299.20" stroke="#000" stroke-width="1.4"/>
<line x1="94.20" y1="306.20" x2="94.20" y2="309.80" stroke="#000" stroke-width="1.4"/>
<line x1="116.60" y1="306.20" x2="116.60" y2="309.80" stroke="#000" stroke-width="1.4"/>
<line x1="139.00" y1="306.20" x2="139.00" y2="309.80" stroke="#000" stroke-width="1.4"/>
<line x1="161.40" y1="306.20" x2="161.40" y2="309.80" stroke="#000" stroke-width="1.4"/>
<text x="63.62" y="257.80" font-size="10.2">10</text>
<text x="75.87" y="252.60" font-size="8.5">0</text>
<text x="63.62" y="302.00" font-size="10.2">10</text>
<text x="76.02" y="297.80" font-size="8.5">-2</text>
<text x="89.82" y="323.10" font-size="10.2">10</text>
<text x="102.52" y="318.20" font-size="8.5">-2</text>
<text x="133.22" y="323.10" font-size="10.2">10</text>
<text x="144.97" y="318.20" font-size="8.5">0</text>
<text x="70.89" y="339.70">k</text>
<text x="79.23" y="344.30" font-size="8.9">on</text>
<text x="91.49" y="339.70" font-size="10.6">in nascent RNA, h</text>
<text x="175.02" y="334.80" font-size="8.5">-1</text>
<text x="133.31" y="273.30">9161 genes</text>
<text x="122.25" y="287.40">(k</text>
<text x="131.83" y="291.80" font-size="8.9">on</text>
<text x="142.95" y="287.40" font-size="10.6">and burst</text>
<text x="115.91" y="301.70">size controlled)</text>
<text transform="translate(23.80,281.60) rotate(-90)">k</text>
<text transform="translate(29.60,276.40) rotate(-90)" font-size="8.9">on</text>
<text transform="translate(23.80,261.50) rotate(-90)">in</text>
<text transform="translate(39.60,267.20) rotate(-90)" text-anchor="middle" font-size="10.3">old+nascent</text>
<text transform="translate(53.70,288.30) rotate(-90)">RNA, h</text>
<text transform="translate(48.50,255.20) rotate(-90)" font-size="8.5">-1</text>
<text x="265.82" y="226.40">Spearman r = 0.59</text>
<path d="M350.60,234.60 C351.07,234.73 352.73,234.80 353.40,235.40 C354.07,236.00 354.63,237.23 354.60,238.20 C354.57,239.17 353.87,240.33 353.20,241.20 C352.53,242.07 351.20,242.63 350.60,243.40 C350.00,244.17 349.83,244.70 349.60,245.80 C349.37,246.90 349.37,248.37 349.20,250.00 C349.03,251.63 348.93,253.85 348.60,255.60 C348.27,257.35 347.72,258.87 347.20,260.50 C346.68,262.13 346.10,263.77 345.50,265.40 C344.90,267.03 344.27,268.67 343.60,270.30 C342.93,271.93 342.23,273.55 341.50,275.20 C340.77,276.85 340.02,278.55 339.20,280.20 C338.38,281.85 337.43,283.55 336.60,285.10 C335.77,286.65 335.02,288.22 334.20,289.50 C333.38,290.78 332.63,291.95 331.70,292.80 C330.77,293.65 329.58,294.23 328.60,294.60 C327.62,294.97 326.77,295.10 325.80,295.00 C324.83,294.90 323.60,294.63 322.80,294.00 C322.00,293.37 321.37,292.68 321.00,291.20 C320.63,289.72 320.60,287.13 320.60,285.10 C320.60,283.07 320.77,280.97 321.00,279.00 C321.23,277.03 321.57,275.27 322.00,273.30 C322.43,271.33 322.97,269.17 323.60,267.20 C324.23,265.23 325.00,263.33 325.80,261.50 C326.60,259.67 327.42,257.85 328.40,256.20 C329.38,254.55 330.67,253.00 331.70,251.60 C332.73,250.20 333.62,248.93 334.60,247.80 C335.58,246.67 336.62,245.57 337.60,244.80 C338.58,244.03 339.52,243.57 340.50,243.20 C341.48,242.83 342.65,242.83 343.50,242.60 C344.35,242.37 344.98,242.50 345.60,241.80 C346.22,241.10 346.70,239.43 347.20,238.40 C347.70,237.37 348.03,236.23 348.60,235.60 C349.17,234.97 350.27,234.77 350.60,234.60Z" fill="#A6C8EF" filter="url(#bl2)"/>
<ellipse cx="335.0" cy="268.8" rx="8.6" ry="24.5" transform="rotate(28 335.0 268.8)" fill="#90BDEC" opacity="1" filter="url(#bl)"/>
<ellipse cx="332.8" cy="273.6" rx="6.0" ry="16" transform="rotate(28 332.8 273.6)" fill="#78ADE7" opacity="1" filter="url(#bl)"/>
<ellipse cx="331.2" cy="277.4" rx="3.6" ry="8.5" transform="rotate(29 331.2 277.4)" fill="#5291DC" opacity="1" filter="url(#bl)"/>
<ellipse cx="331.5" cy="277.6" rx="2.2" ry="4.6" transform="rotate(29 331.5 277.6)" fill="#3A66A6" opacity="1" filter="url(#bl2)"/>
<ellipse cx="331.6" cy="277.6" rx="1.4" ry="2.8" transform="rotate(29 331.6 277.6)" fill="#26406A" opacity="1" filter="url(#bl2)"/>
<line x1="313.60" y1="233.30" x2="313.60" y2="306.20" stroke="#000" stroke-width="1.4"/>
<line x1="312.90" y1="306.20" x2="390.80" y2="306.20" stroke="#000" stroke-width="1.4"/>
<line x1="310.20" y1="255.75" x2="313.60" y2="255.75" stroke="#000" stroke-width="1.3"/>
<line x1="310.20" y1="294.45" x2="313.60" y2="294.45" stroke="#000" stroke-width="1.3"/>
<line x1="309.00" y1="236.40" x2="313.60" y2="236.40" stroke="#000" stroke-width="1.4"/>
<line x1="309.00" y1="275.10" x2="313.60" y2="275.10" stroke="#000" stroke-width="1.4"/>
<line x1="325.00" y1="306.20" x2="325.00" y2="310.00" stroke="#000" stroke-width="1.4"/>
<line x1="344.30" y1="306.20" x2="344.30" y2="310.00" stroke="#000" stroke-width="1.4"/>
<line x1="363.60" y1="306.20" x2="363.60" y2="310.00" stroke="#000" stroke-width="1.4"/>
<line x1="382.90" y1="306.20" x2="382.90" y2="310.00" stroke="#000" stroke-width="1.4"/>
<text x="289.42" y="241.90" font-size="10.2">10</text>
<text x="301.37" y="236.70" font-size="8.5">2</text>
<text x="289.42" y="282.20" font-size="10.2">10</text>
<text x="301.77" y="277.40" font-size="8.5">0</text>
<text x="337.42" y="321.90" font-size="10.2">10</text>
<text x="349.07" y="317.20" font-size="8.5">0</text>
<text x="377.72" y="321.90" font-size="10.2">10</text>
<text x="389.37" y="317.20" font-size="8.5">2</text>
<text x="284.83" y="338.80" font-size="10.6">Burst size in nascent RNA</text>
<text x="355.31" y="273.60">9161 genes</text>
<text x="342.85" y="287.60">(k</text>
<text x="352.23" y="291.90" font-size="8.9">on</text>
<text x="364.05" y="287.60" font-size="10.6">and burst</text>
<text x="337.41" y="302.00">size controlled)</text>
<text transform="translate(248.60,267.60) rotate(-90)" text-anchor="middle" font-size="10.1">Burst size</text>
<text transform="translate(260.20,267.40) rotate(-90)" text-anchor="middle" font-size="10.0">in</text>
<text transform="translate(269.80,267.00) rotate(-90)" text-anchor="middle" font-size="10.2">old+nascent</text>
<text transform="translate(281.60,267.00) rotate(-90)" text-anchor="middle" font-size="10.3">RNA</text>
<text x="435.47" y="245.50">235</text>
<text x="435.66" y="258.60">genes</text>
<text x="435.60" y="307.10">190</text>
<text x="435.66" y="321.00">genes</text>
<path d="M516.50,263.60 C517.17,262.33 519.25,259.10 520.50,256.00 C521.75,252.90 522.85,248.00 524.00,245.00 C525.15,242.00 526.23,238.75 527.40,238.00 C528.57,237.25 529.73,239.08 531.00,240.50 C532.27,241.92 533.50,244.42 535.00,246.50 C536.50,248.58 538.33,251.00 540.00,253.00 C541.67,255.00 543.17,256.73 545.00,258.50 C546.83,260.27 550.00,262.75 551.00,263.60" stroke="#86EC3C" stroke-width="1.7" fill="none" stroke-dasharray="2.0 1.6"/>
<path d="M514.80,263.60 C515.30,262.50 516.85,259.52 517.80,257.00 C518.75,254.48 519.52,251.25 520.50,248.50 C521.48,245.75 522.70,242.53 523.70,240.50 C524.70,238.47 525.40,236.42 526.50,236.30 C527.60,236.18 528.73,237.68 530.30,239.80 C531.87,241.92 533.72,246.03 535.90,249.00 C538.08,251.97 540.88,255.17 543.40,257.60 C545.92,260.03 549.73,262.60 551.00,263.60" stroke="#86EC3C" stroke-width="1.7" fill="none" stroke-linejoin="round" stroke-linecap="round"/>
<path d="M484.10,263.60 C484.75,263.42 486.58,263.68 488.00,262.50 C489.42,261.32 490.90,258.83 492.60,256.50 C494.30,254.17 496.32,250.48 498.20,248.50 C500.08,246.52 501.70,244.65 503.90,244.60 C506.10,244.55 508.88,246.60 511.40,248.20 C513.92,249.80 516.17,252.27 519.00,254.20 C521.83,256.13 525.27,258.33 528.40,259.80 C531.53,261.27 535.53,262.37 537.80,263.00 C540.07,263.63 541.30,263.50 542.00,263.60" stroke="#3455BC" stroke-width="1.7" fill="none" stroke-dasharray="2.0 1.6"/>
<path d="M499.50,263.60 C500.17,263.08 502.13,262.07 503.50,260.50 C504.87,258.93 506.07,256.38 507.70,254.20 C509.33,252.02 511.58,249.00 513.30,247.40 C515.02,245.80 516.27,244.45 518.00,244.60 C519.73,244.75 521.65,246.80 523.70,248.30 C525.75,249.80 528.27,252.38 530.30,253.60 C532.33,254.82 533.72,254.43 535.90,255.60 C538.08,256.77 541.20,259.27 543.40,260.60 C545.60,261.93 548.15,263.10 549.10,263.60" stroke="#3455BC" stroke-width="1.7" fill="none" stroke-linejoin="round" stroke-linecap="round"/>
<path d="M476.80,263.60 C477.33,262.50 478.93,260.18 480.00,257.00 C481.07,253.82 482.05,248.13 483.20,244.50 C484.35,240.87 485.72,237.52 486.90,235.20 C488.08,232.88 489.20,230.93 490.30,230.60 C491.40,230.27 492.48,231.18 493.50,233.20 C494.52,235.22 495.45,238.98 496.40,242.70 C497.35,246.42 498.42,252.02 499.20,255.50 C499.98,258.98 500.78,262.25 501.10,263.60" stroke="#A5222A" stroke-width="1.7" fill="none" stroke-dasharray="2.0 1.6"/>
<path d="M481.00,263.60 C481.50,262.75 483.02,261.05 484.00,258.50 C484.98,255.95 485.93,253.13 486.90,248.30 C487.87,243.47 488.85,234.52 489.80,229.50 C490.75,224.48 491.82,220.78 492.60,218.20 C493.38,215.62 493.82,214.00 494.50,214.00 C495.18,214.00 496.08,215.00 496.70,218.20 C497.32,221.40 497.70,227.87 498.20,233.20 C498.70,238.53 499.22,245.13 499.70,250.20 C500.18,255.27 500.87,261.37 501.10,263.60" stroke="#A5222A" stroke-width="1.7" fill="none" stroke-linejoin="round" stroke-linecap="round"/>
<path d="M512.50,325.00 C513.42,324.25 516.17,322.30 518.00,320.50 C519.83,318.70 521.40,315.92 523.50,314.20 C525.60,312.48 528.52,310.40 530.60,310.20 C532.68,310.00 534.10,311.57 536.00,313.00 C537.90,314.43 540.00,317.17 542.00,318.80 C544.00,320.43 546.00,321.77 548.00,322.80 C550.00,323.83 553.00,324.63 554.00,325.00" stroke="#86EC3C" stroke-width="1.7" fill="none" stroke-dasharray="2.0 1.6"/>
<path d="M510.90,325.00 C511.83,324.10 514.62,321.60 516.50,319.60 C518.38,317.60 520.32,314.72 522.20,313.00 C524.08,311.28 525.92,309.45 527.80,309.30 C529.68,309.15 531.30,310.53 533.50,312.10 C535.70,313.67 538.67,316.92 541.00,318.70 C543.33,320.48 545.30,321.75 547.50,322.80 C549.70,323.85 553.08,324.63 554.20,325.00" stroke="#86EC3C" stroke-width="1.7" fill="none" stroke-linejoin="round" stroke-linecap="round"/>
<path d="M490.00,325.00 C490.67,324.75 492.72,324.37 494.00,323.50 C495.28,322.63 496.30,321.22 497.70,319.80 C499.10,318.38 500.52,316.20 502.40,315.00 C504.28,313.80 506.65,312.70 509.00,312.60 C511.35,312.50 514.00,313.38 516.50,314.40 C519.00,315.42 520.87,317.52 524.00,318.70 C527.13,319.88 531.22,320.45 535.30,321.50 C539.38,322.55 546.30,324.42 548.50,325.00" stroke="#3455BC" stroke-width="1.7" fill="none" stroke-dasharray="2.0 1.6"/>
<path d="M500.50,325.00 C501.17,324.70 503.08,324.10 504.50,323.20 C505.92,322.30 507.00,320.98 509.00,319.60 C511.00,318.22 514.47,316.07 516.50,314.90 C518.53,313.73 519.47,312.38 521.20,312.60 C522.93,312.82 524.55,315.18 526.90,316.20 C529.25,317.22 532.62,317.67 535.30,318.70 C537.98,319.73 540.48,321.35 543.00,322.40 C545.52,323.45 549.17,324.57 550.40,325.00" stroke="#3455BC" stroke-width="1.7" fill="none" stroke-linejoin="round" stroke-linecap="round"/>
<path d="M465.00,325.00 C466.05,324.93 469.15,325.18 471.30,324.60 C473.45,324.02 476.17,323.58 477.90,321.50 C479.63,319.42 480.45,315.40 481.70,312.10 C482.95,308.80 484.15,304.15 485.40,301.70 C486.65,299.25 487.93,297.40 489.20,297.40 C490.47,297.40 491.75,298.93 493.00,301.70 C494.25,304.47 495.45,310.12 496.70,314.00 C497.95,317.88 499.87,323.17 500.50,325.00" stroke="#A5222A" stroke-width="1.7" fill="none" stroke-dasharray="2.0 1.6"/>
<path d="M483.50,325.00 C484.13,323.17 486.03,319.28 487.30,314.00 C488.57,308.72 490.07,298.97 491.10,293.30 C492.13,287.63 492.82,282.98 493.50,280.00 C494.18,277.02 494.67,275.40 495.20,275.40 C495.73,275.40 496.28,277.02 496.70,280.00 C497.12,282.98 497.22,287.63 497.70,293.30 C498.18,298.97 499.03,308.72 499.60,314.00 C500.17,319.28 500.85,323.17 501.10,325.00" stroke="#A5222A" stroke-width="1.7" fill="none" stroke-linejoin="round" stroke-linecap="round"/>
<line x1="435.10" y1="264.30" x2="565.40" y2="264.30" stroke="#000" stroke-width="1.6"/>
<line x1="435.10" y1="325.40" x2="565.40" y2="325.40" stroke="#000" stroke-width="1.6"/>
<line x1="453.70" y1="264.30" x2="453.70" y2="266.40" stroke="#000" stroke-width="1.1"/>
<line x1="453.70" y1="325.40" x2="453.70" y2="327.60" stroke="#000" stroke-width="1.1"/>
<line x1="480.90" y1="264.30" x2="480.90" y2="266.40" stroke="#000" stroke-width="1.1"/>
<line x1="480.90" y1="325.40" x2="480.90" y2="327.60" stroke="#000" stroke-width="1.1"/>
<line x1="508.10" y1="264.30" x2="508.10" y2="266.40" stroke="#000" stroke-width="1.1"/>
<line x1="508.10" y1="325.40" x2="508.10" y2="327.60" stroke="#000" stroke-width="1.1"/>
<line x1="535.30" y1="264.30" x2="535.30" y2="266.40" stroke="#000" stroke-width="1.1"/>
<line x1="535.30" y1="325.40" x2="535.30" y2="327.60" stroke="#000" stroke-width="1.1"/>
<line x1="562.50" y1="264.30" x2="562.50" y2="266.40" stroke="#000" stroke-width="1.1"/>
<line x1="562.50" y1="325.40" x2="562.50" y2="327.60" stroke="#000" stroke-width="1.1"/>
<text x="444.32" y="339.90" font-size="10.2">10</text>
<text x="457.02" y="334.40" font-size="8.5">-1</text>
<text x="472.42" y="339.90" font-size="10.2">10</text>
<text x="484.67" y="334.40" font-size="8.5">0</text>
<text x="499.72" y="339.90" font-size="10.2">10</text>
<text x="512.15" y="334.40" font-size="8.5">1</text>
<text x="526.32" y="339.90" font-size="10.2">10</text>
<text x="538.37" y="334.40" font-size="8.5">2</text>
<text x="547.77" y="339.60">h</text>
<text x="552.22" y="335.20" font-size="8.5">-1</text>
<text x="538.45" y="227.50">alleleC57</text>
<text x="597.15" y="227.50">all</text>
<text x="535.85" y="286.60">alleleCast</text>
<line x1="572.8" y1="232.70" x2="588.6" y2="232.70" stroke="#A5222A" stroke-width="1.7" stroke-dasharray="2.3 2.0"/>
<line x1="593.30" y1="232.70" x2="608.80" y2="232.70" stroke="#A5222A" stroke-width="1.8"/>
<text x="613.21" y="238.70" font-size="10.2">k</text>
<text x="619.03" y="242.90" font-size="8.9">on</text>
<text x="630.68" y="238.70" font-size="10.2">, r=0.64</text>
<line x1="572.8" y1="251.30" x2="588.6" y2="251.30" stroke="#3455BC" stroke-width="1.7" stroke-dasharray="2.3 2.0"/>
<line x1="593.30" y1="251.30" x2="608.80" y2="251.30" stroke="#3455BC" stroke-width="1.8"/>
<text x="613.21" y="257.30" font-size="10.2">k</text>
<text x="619.15" y="261.50" font-size="8.9">syn</text>
<text x="634.68" y="257.30" font-size="10.2">, r=0.38</text>
<line x1="572.8" y1="269.90" x2="588.6" y2="269.90" stroke="#86EC3C" stroke-width="1.7" stroke-dasharray="2.3 2.0"/>
<line x1="593.30" y1="269.90" x2="608.80" y2="269.90" stroke="#86EC3C" stroke-width="1.8"/>
<text x="613.21" y="275.90" font-size="10.2">k</text>
<text x="619.03" y="280.10" font-size="8.9">off</text>
<text x="630.68" y="275.90" font-size="10.2">, r=0.07</text>
<line x1="572.8" y1="297.20" x2="588.6" y2="297.20" stroke="#A5222A" stroke-width="1.7" stroke-dasharray="2.3 2.0"/>
<line x1="593.30" y1="297.20" x2="608.80" y2="297.20" stroke="#A5222A" stroke-width="1.8"/>
<text x="613.21" y="303.20" font-size="10.2">k</text>
<text x="619.03" y="307.40" font-size="8.9">on</text>
<text x="630.68" y="303.20" font-size="10.2">, r=0.63</text>
<line x1="572.8" y1="315.80" x2="588.6" y2="315.80" stroke="#3455BC" stroke-width="1.7" stroke-dasharray="2.3 2.0"/>
<line x1="593.30" y1="315.80" x2="608.80" y2="315.80" stroke="#3455BC" stroke-width="1.8"/>
<text x="613.21" y="321.80" font-size="10.2">k</text>
<text x="619.15" y="326.00" font-size="8.9">syn</text>
<text x="634.68" y="321.80" font-size="10.2">, r=0.50</text>
<line x1="572.8" y1="334.40" x2="588.6" y2="334.40" stroke="#86EC3C" stroke-width="1.7" stroke-dasharray="2.3 2.0"/>
<line x1="593.30" y1="334.40" x2="608.80" y2="334.40" stroke="#86EC3C" stroke-width="1.8"/>
<text x="613.21" y="340.40" font-size="10.2">k</text>
<text x="619.03" y="344.60" font-size="8.9">off</text>
<text x="630.68" y="340.40" font-size="10.2">, r=0.15</text>
</g>
</svg>
</body></html>
